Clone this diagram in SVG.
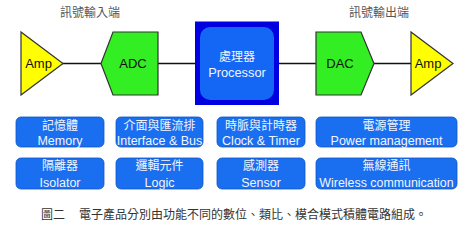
<svg xmlns="http://www.w3.org/2000/svg" width="474" height="232" viewBox="0 0 474 232">
<style>
.lbl{font-family:"Noto Sans CJK TC","Noto Sans CJK SC",sans-serif;font-size:12px;fill:#555;text-anchor:middle}
.cap{font-family:"Noto Sans CJK TC","Noto Sans CJK SC",sans-serif;font-size:12px;fill:#333}
.en{font-family:"Liberation Sans",Arial,sans-serif;font-size:12.5px;text-anchor:middle}
.zh{font-family:"Noto Sans CJK TC","Noto Sans CJK SC",sans-serif;font-size:12px;text-anchor:middle}
.blk{fill:#111}
.wht{fill:#f2f5ff}
.amp{fill:#ffff00;stroke:#333;stroke-width:1.2}
.conv{fill:#33ee22;stroke:#333;stroke-width:1.2}
.box{fill:#1a6ef0;stroke:#0d55c8;stroke-width:0.8}
.wire{stroke:#111;stroke-width:1.5;fill:none}
</style>
<rect width="474" height="232" fill="#fff"/>
<g id="connectors">
<line class="wire" x1="62" y1="63.5" x2="101" y2="63.5"/>
<line class="wire" x1="158" y1="63.5" x2="195" y2="63.5"/>
<line class="wire" x1="279" y1="63.5" x2="316" y2="63.5"/>
<line class="wire" x1="374" y1="63.5" x2="411" y2="63.5"/>
</g>
<text class="lbl" x="90" y="17">訊號輸入端</text>
<text class="lbl" x="379" y="17">訊號輸出端</text>
<g id="amp-in">
<polygon class="amp" points="21,32 21,95 63,63.5"/>
<text class="en blk" x="38.5" y="68" style="font-size:13px">Amp</text>
</g>
<g id="adc">
<polygon class="conv" points="101,63.5 113,32 158,32 158,95 113,95"/>
<text class="en blk" x="133" y="68" style="font-size:13px">ADC</text>
</g>
<g id="processor">
<rect x="195" y="21.5" width="84" height="83.5" fill="#0000e0"/>
<rect x="200" y="27" width="74" height="73" rx="10" fill="#1466f5"/>
<text class="zh wht" x="237" y="61">處理器</text>
<text class="en wht" x="237" y="76.5" style="font-size:12.8px">Processor</text>
</g>
<g id="dac">
<polygon class="conv" points="316,32 361,32 374,63.5 361,95 316,95"/>
<text class="en blk" x="340" y="68" style="font-size:13px">DAC</text>
</g>
<g id="amp-out">
<polygon class="amp" points="411,32 411,95 453,63.5"/>
<text class="en blk" x="428" y="68" style="font-size:13px">Amp</text>
</g>
<g id="memory">
<rect class="box" x="16" y="117" width="88" height="30" rx="5"/>
<text class="zh wht" x="60" y="130">記憶體</text>
<text class="en wht" x="60" y="145">Memory</text>
</g>
<g id="interface">
<rect class="box" x="116" y="117" width="87" height="30" rx="5"/>
<text class="zh wht" x="159.5" y="130">介面與匯流排</text>
<text class="en wht" x="159.5" y="145">Interface &amp; Bus</text>
</g>
<g id="clock">
<rect class="box" x="217" y="117" width="88" height="30" rx="5"/>
<text class="zh wht" x="261" y="130">時脈與計時器</text>
<text class="en wht" x="261" y="145">Clock &amp; Timer</text>
</g>
<g id="power">
<rect class="box" x="316" y="117" width="141" height="30" rx="5"/>
<text class="zh wht" x="386.5" y="130">電源管理</text>
<text class="en wht" x="386.5" y="145">Power management</text>
</g>
<g id="isolator">
<rect class="box" x="16" y="158" width="88" height="31" rx="5"/>
<text class="zh wht" x="60" y="170">隔離器</text>
<text class="en wht" x="60" y="186.5">Isolator</text>
</g>
<g id="logic">
<rect class="box" x="116" y="158" width="87" height="31" rx="5"/>
<text class="zh wht" x="159.5" y="170">邏輯元件</text>
<text class="en wht" x="159.5" y="186.5">Logic</text>
</g>
<g id="sensor">
<rect class="box" x="217" y="158" width="88" height="31" rx="5"/>
<text class="zh wht" x="261" y="170">感測器</text>
<text class="en wht" x="261" y="186.5">Sensor</text>
</g>
<g id="wireless">
<rect class="box" x="316" y="158" width="141" height="31" rx="5"/>
<text class="zh wht" x="386.5" y="170">無線通訊</text>
<text class="en wht" x="386.5" y="186.5" style="font-size:12.4px">Wireless communication</text>
</g>
<text class="cap" x="41" y="219">圖二</text>
<text class="cap" x="79" y="219">電子產品分別由功能不同的數位、類比、模合模式積體電路組成。</text>
</svg>
